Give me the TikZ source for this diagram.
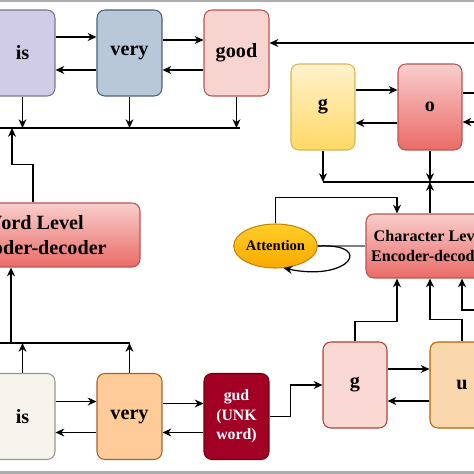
\documentclass[tikz,border=0pt]{standalone}
\usepackage{fontspec}
\setmainfont{Liberation Serif}
\usetikzlibrary{arrows.meta,shapes.geometric}

\definecolor{lavender}{RGB}{208,204,230}
\definecolor{lavenderline}{RGB}{120,116,150}
\definecolor{slate}{RGB}{184,200,216}
\definecolor{slateline}{RGB}{74,96,120}
\definecolor{rose}{RGB}{248,212,208}
\definecolor{roseline}{RGB}{184,84,80}
\definecolor{redtop}{RGB}{248,206,204}
\definecolor{redbot}{RGB}{234,107,102}
\definecolor{yeltop}{RGB}{255,242,204}
\definecolor{yelbot}{RGB}{255,217,102}
\definecolor{yelline}{RGB}{214,182,86}
\definecolor{orgtop}{RGB}{255,205,40}
\definecolor{orgbot}{RGB}{250,170,0}
\definecolor{orgline}{RGB}{200,130,0}
\definecolor{cream}{RGB}{246,244,236}
\definecolor{creamline}{RGB}{150,150,150}
\definecolor{peach}{RGB}{255,204,153}
\definecolor{peachline}{RGB}{160,100,50}
\definecolor{wine}{RGB}{162,0,37}
\definecolor{wineline}{RGB}{111,0,0}
\definecolor{pink}{RGB}{250,217,213}
\definecolor{pinkline}{RGB}{174,65,50}
\definecolor{apricot}{RGB}{250,215,172}
\definecolor{apricotline}{RGB}{180,101,4}

\begin{document}
\begin{tikzpicture}[x=0.02cm, y=-0.02cm,
        box/.style={draw, line width=0.6pt, rounded corners=4.5pt, minimum width=1.3cm, minimum height=1.72cm, inner sep=0pt, font=\fontsize{11.5}{14}\selectfont\bfseries},
        encbox/.style={box, minimum height=1.28cm, top color=redtop, bottom color=redbot, draw=roseline, align=center},
        arr/.style={-{Stealth[length=5pt,width=4.5pt]}, line width=0.7pt}
    ]
        \useasboundingbox (0,0) rectangle (474,474);
        \clip (0,0) rectangle (474,474);

        % --- gray edges of the cut figure ---
        \fill[gray!65] (0,0) rectangle (474,2);
        \fill[gray!65] (0,471) rectangle (474,474);

        % --- top row: word output ---
        \node[box, fill=lavender, draw=lavenderline] (is1) at (22.5,53) {is};
        \node[box, fill=slate, draw=slateline] (very1) at (129.5,53) {very};
        \node[box, fill=rose, draw=roseline] (good1) at (236.5,53) {good};

        % --- upper right: character output ---
        \node[box, minimum width=1.28cm, top color=yeltop, bottom color=yelbot, draw=yelline] (g1) at (323,107) {g};
        \node[box, minimum width=1.28cm, top color=redtop, bottom color=redbot, draw=roseline] (o1) at (430,107) {o};

        % --- encoder-decoders ---
        \node[encbox, minimum width=4.28cm] (word) at (33,235) {Word Level\\Encoder-decoder};
        \node[encbox, minimum width=2.56cm, font=\fontsize{9.2}{11}\selectfont\bfseries] (char) at (430,246) {Character Level\\Encoder-decoder};
        \node[ellipse, draw=orgline, line width=0.6pt, top color=orgtop, bottom color=orgbot, minimum width=1.5cm, minimum height=0.88cm, inner sep=0pt, font=\fontsize{8.3}{10}\selectfont\bfseries] (att) at (275.5,246) {Attention};

        % --- bottom row: word input ---
        \node[box, fill=cream, draw=creamline] (is2) at (22.5,416.5) {is};
        \node[box, fill=peach, draw=peachline] (very2) at (129.5,416.5) {very};
        \node[box, fill=wine, draw=wineline, text=white, align=center, font=\fontsize{9}{11}\selectfont\bfseries] (gud) at (236.5,416.5) {gud\\(UNK\\word)};

        % --- lower right: character input ---
        \node[box, minimum width=1.28cm, fill=pink, draw=pinkline] (g2) at (355,385) {g};
        \node[box, minimum width=1.28cm, fill=apricot, draw=apricotline] (u) at (462,385) {u};

        % --- top row links ---
        \draw[arr] ([shift={(0,-16)}]is1.east) -- ([shift={(0,-16)}]very1.west);
        \draw[arr] ([shift={(0,17)}]very1.west) -- ([shift={(0,17)}]is1.east);
        \draw[arr] ([shift={(0,-13)}]very1.east) -- ([shift={(0,-13)}]good1.west);
        \draw[arr] ([shift={(0,17)}]good1.west) -- ([shift={(0,17)}]very1.east);
        \coordinate (fromD) at (476,43);
        \draw[arr] (fromD) -- (fromD -| good1.east);

        \coordinate (busA) at (-2,128);
        \draw[line width=0.7pt] (busA) -- ([shift={(3,0)}]busA -| good1.south);
        \foreach \n in {is1, very1, good1} {
            \draw[arr] (\n.south) -- (\n.south |- busA);
        }
        \coordinate (wordOut) at (12,128);
        \draw[arr] (word.north) -- ++(0,-38) -| (wordOut);

        % --- bottom row links ---
        \coordinate (busB) at (-2,343);
        \draw[line width=0.7pt] (busB) -- (busB -| very2.north);
        \foreach \n in {is2, very2} {
            \draw[arr] (\n.north) -- (\n.north |- busB);
        }
        \coordinate (wordIn) at (11,343);
        \draw[arr] (wordIn) -- (wordIn |- word.south);

        \draw[arr] ([shift={(0,-15)}]is2.east) -- ([shift={(0,-15)}]very2.west);
        \draw[arr] ([shift={(0,16)}]very2.west) -- ([shift={(0,16)}]is2.east);
        \draw[arr] ([shift={(0,-13)}]very2.east) -- ([shift={(0,-13)}]gud.west);
        \draw[arr] ([shift={(0,16)}]gud.west) -- ([shift={(0,16)}]very2.east);
        \draw[arr] (gud.east) -- ++(21,0) |- (g2.west);

        \draw[arr] ([shift={(0,-16)}]g2.east) -- ([shift={(0,-16)}]u.west);
        \draw[arr] ([shift={(0,16)}]u.west) -- ([shift={(0,16)}]g2.east);

        % --- into the character encoder-decoder ---
        \draw[arr] (g2.north) -- ++(0,-20) -| ([shift={(-33,0)}]char.south);
        \draw[arr] (u.north) -- ++(0,-22) -| (char.south);
        \coordinate (fromR) at (476,310);
        \draw[arr] (fromR) -| ([shift={(32,0)}]char.south);

        % --- out of the character encoder-decoder ---
        \coordinate (busC) at (476,182);
        \draw[line width=0.7pt] (busC) -- (busC -| g1.south);
        \draw[arr] (g1.south) -- (g1.south |- busC);
        \draw[arr] (o1.south) -- (o1.south |- busC);
        \draw[arr] (char.north) -- (char.north |- busC);

        \draw[arr] ([shift={(0,-17)}]g1.east) -- ([shift={(0,-17)}]o1.west);
        \draw[arr] ([shift={(0,16)}]o1.west) -- ([shift={(0,16)}]g1.east);
        \coordinate (toR) at (476,93);
        \draw[line width=0.7pt] (toR -| o1.east) -- (toR);
        \coordinate (fromO) at (476,122);
        \draw[arr] (fromO) -- (fromO -| o1.east);

        % --- attention ---
        \draw[arr] (att.north) -- ++(0,-26) -| ([shift={(-33,0)}]char.north);
        \draw[gray, line width=0.6pt] (att.east) -- (char.west);
        \draw[arr] (att.east) .. controls (375,243) and (350,282) .. (att.-70);

\end{tikzpicture}
\end{document}
